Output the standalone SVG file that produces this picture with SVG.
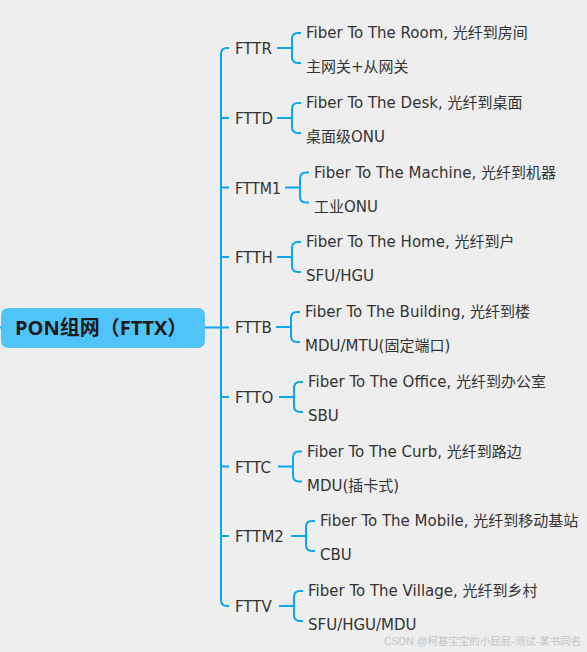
<svg xmlns="http://www.w3.org/2000/svg" width="587" height="652" viewBox="0 0 587 652">
<style>
.bg{fill:#eeeeee}
.c{fill:none;stroke:#0aa6f2;stroke-width:2;stroke-linecap:butt}
.t{font-family:"DejaVu Sans","Noto Sans CJK SC",sans-serif;font-size:15px;fill:#333333}
.r{font-family:"Open Sans","Noto Sans CJK SC",sans-serif;font-size:20px;font-weight:bold;fill:#1a1a1a}
.w{font-family:"Liberation Sans","Noto Sans CJK SC",sans-serif;font-size:10.5px;fill:#c4c4c4}
</style>
<rect class="bg" x="0" y="0" width="587" height="652"/>
<g id="connectors">
<path class="c" d="M0,327.5 H2"/>
<path class="c" d="M205,327.5 H229"/>
<path class="c" d="M229,48 H227 Q221,48 221,54 V600 Q221,606 227,606 H229"/>
<path class="c" d="M221,118 H229 M221,187.5 H229 M221,257 H229 M221,397 H229 M221,466.5 H229 M221,536 H229"/>
<path class="c" d="M277,48 H292 M301,33 H298 Q292,33 292,39 V57 Q292,63 298,63 H301"/>
<path class="c" d="M277,118 H292 M301,103 H298 Q292,103 292,109 V127 Q292,133 298,133 H301"/>
<path class="c" d="M285,187.5 H300 M309,172.5 H306 Q300,172.5 300,178.5 V196.5 Q300,202.5 306,202.5 H309"/>
<path class="c" d="M277,257 H292 M301,242 H298 Q292,242 292,248 V266 Q292,272 298,272 H301"/>
<path class="c" d="M276,327 H291 M300,312 H297 Q291,312 291,318 V336 Q291,342 297,342 H300"/>
<path class="c" d="M279,397 H294 M303,382 H300 Q294,382 294,388 V406 Q294,412 300,412 H303"/>
<path class="c" d="M278,466.5 H293 M302,451.5 H299 Q293,451.5 293,457.5 V475.5 Q293,481.5 299,481.5 H302"/>
<path class="c" d="M291,536 H306 M315,521 H312 Q306,521 306,527 V545 Q306,551 312,551 H315"/>
<path class="c" d="M279,606 H294 M303,591 H300 Q294,591 294,597 V615 Q294,621 300,621 H303"/>
</g>
<g id="root">
<rect x="1" y="308" width="204" height="40" rx="7" fill="#50c4f7"/>
<text class="r" x="15" y="335">PON组网（FTTX）</text>
</g>
<g id="fttr"><text class="t" x="235" y="54">FTTR</text></g>
<g id="fttr-1"><text class="t" x="306" y="38">Fiber To The Room, 光纤到房间</text></g>
<g id="fttr-2"><text class="t" x="306" y="72">主网关+从网关</text></g>
<g id="fttd"><text class="t" x="235" y="124">FTTD</text></g>
<g id="fttd-1"><text class="t" x="306" y="108">Fiber To The Desk, 光纤到桌面</text></g>
<g id="fttd-2"><text class="t" x="306" y="142">桌面级ONU</text></g>
<g id="fttm1"><text class="t" x="235" y="193.5" textLength="46" lengthAdjust="spacingAndGlyphs">FTTM1</text></g>
<g id="fttm1-1"><text class="t" x="314" y="177.5">Fiber To The Machine, 光纤到机器</text></g>
<g id="fttm1-2"><text class="t" x="314" y="211.5">工业ONU</text></g>
<g id="ftth"><text class="t" x="235" y="263">FTTH</text></g>
<g id="ftth-1"><text class="t" x="306" y="247">Fiber To The Home, 光纤到户</text></g>
<g id="ftth-2"><text class="t" x="306" y="281">SFU/HGU</text></g>
<g id="fttb"><text class="t" x="235" y="333">FTTB</text></g>
<g id="fttb-1"><text class="t" x="305" y="317">Fiber To The Building, 光纤到楼</text></g>
<g id="fttb-2"><text class="t" x="305" y="351">MDU/MTU(固定端口)</text></g>
<g id="ftto"><text class="t" x="235" y="403">FTTO</text></g>
<g id="ftto-1"><text class="t" x="308" y="387">Fiber To The Office, 光纤到办公室</text></g>
<g id="ftto-2"><text class="t" x="308" y="421">SBU</text></g>
<g id="fttc"><text class="t" x="235" y="472.5">FTTC</text></g>
<g id="fttc-1"><text class="t" x="307" y="456.5">Fiber To The Curb, 光纤到路边</text></g>
<g id="fttc-2"><text class="t" x="307" y="490.5">MDU(插卡式)</text></g>
<g id="fttm2"><text class="t" x="235" y="542">FTTM2</text></g>
<g id="fttm2-1"><text class="t" x="320" y="526">Fiber To The Mobile, 光纤到移动基站</text></g>
<g id="fttm2-2"><text class="t" x="320" y="560">CBU</text></g>
<g id="fttv"><text class="t" x="235" y="612">FTTV</text></g>
<g id="fttv-1"><text class="t" x="308" y="596">Fiber To The Village, 光纤到乡村</text></g>
<g id="fttv-2"><text class="t" x="308" y="630">SFU/HGU/MDU</text></g>
<text class="w" x="384" y="645">CSDN @柯基宝宝的小屁屁-测试-某书同名</text>
</svg>
